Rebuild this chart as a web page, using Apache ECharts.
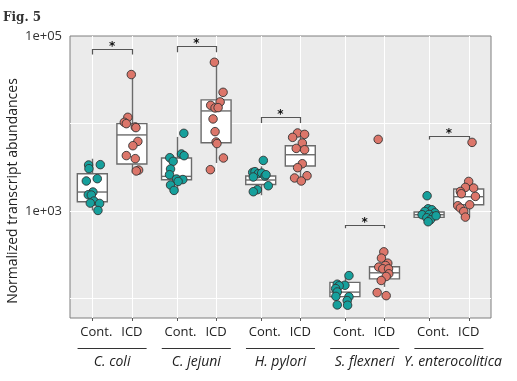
<!DOCTYPE html>
<html>
<head>
<meta charset="utf-8">
<script src="https://cdn.jsdelivr.net/npm/echarts@6/dist/echarts.min.js"></script>
<style>
  html, body { margin: 0; padding: 0; background: #fff; }
  #chart { width: 517px; height: 381px; }
</style>
</head>
<body>
<div id="chart"></div>
<script>
const groups = ['C. coli', 'C. jejuni', 'H. pylori', 'S. flexneri', 'Y. enterocolitica'];
const conditions = ['Cont.', 'ICD'];

// point values (points are jittered, so approximate)
const contValues = [
  [3360, 3050, 3390, 2345, 2205, 1650, 1535, 1523, 1301, 1233, 1222, 1016],
  [7730, 4490, 4290, 4070, 3700, 3025, 2603, 2323, 2290, 2180, 1983, 1722],
  [3790, 2766, 2820, 2673, 2722, 2513, 2600, 2450, 1946, 1754, 1663],
  [183, 146, 142, 140, 130, 119, 106, 105, 94.8, 84.7, 84],
  [1496, 1062, 1035, 989, 955, 908, 914, 867, 838, 795, 883, 755],
];
const icdValues = [
  [36260, 11780, 10330, 9970, 9150, 8980, 6250, 5580, 4300, 3970, 2940, 2870],
  [50100, 22740, 17650, 16150, 15070, 15200, 11290, 8080, 6150, 5900, 4040, 2970],
  [7800, 6950, 7520, 5990, 5200, 5020, 3475, 3130, 2534, 2387, 2205],
  [6590, 342, 290, 254, 239, 229, 219, 219, 192, 179, 161, 117, 108],
  [6090, 2180, 1863, 1675, 1832, 1577, 1470, 1151, 1180, 1081, 989, 853],
];

// horizontal jitter of each point, in group widths
const contJitter = [
  [-0.044, -0.04, 0.095, 0.059, -0.071, 0.007, -0.048, -0.012, 0.019, -0.024, 0.087, 0.067],
  [0.087, 0.059, 0.09, -0.08, -0.04, -0.071, -0.083, 0, 0.075, 0.019, -0.071, -0.029],
  [0.031, -0.095, -0.068, -0.029, 0.012, 0.051, 0.063, -0.088, 0.09, -0.04, -0.088],
  [0.048, -0.091, 0, -0.068, -0.11, -0.091, -0.107, 0.048, 0.027, -0.091, 0.032],
  [-0.024, -0.012, 0.032, -0.051, 0.068, -0.083, 0, 0.048, -0.027, 0.015, 0.083, -0.012],
];
const icdJitter = [
  [-0.007, -0.048, -0.09, -0.066, 0.04, 0.048, 0.071, 0.012, -0.066, 0.04, 0.08, 0.052],
  [-0.02, 0.083, 0.048, -0.064, -0.012, 0.024, -0.036, -0.012, 0, 0.01, 0.087, -0.068],
  [-0.032, -0.091, 0.051, 0.024, -0.048, 0.051, 0.024, -0.032, 0.08, -0.068, 0.012],
  [-0.075, -0.008, -0.036, 0.039, 0.012, -0.068, -0.02, 0.048, 0.051, 0.02, -0.039, -0.087, 0.02],
  [0.04, 0, -0.039, -0.099, 0.059, -0.087, 0.08, -0.13, 0.012, -0.099, -0.059, -0.039],
];

// box stats: [lower whisker, Q1, median, Q3, upper whisker]
const contBoxes = [
  [1016, 1277, 1650, 2672, 3960],
  [1722, 2280, 2490, 4040, 7030],
  [1517, 2010, 2263, 2510, 3240],
  [89, 105.4, 118.6, 153, 177],
  [755, 846, 908, 975, 1120],
];
const icdBoxes = [
  [2740, 3450, 7410, 9970, 36260],
  [3540, 6040, 13930, 18620, 50100],
  [2110, 3270, 4400, 5580, 8300],
  [136, 168, 197, 231, 342],
  [860, 1180, 1459, 1787, 2250],
];

// significance brackets (all "*"): bar level and tip end
const bracketLevels = [71400, 76400, 12000, 697, 7280];
const bracketTips = [61400, 65300, 10160, 635, 6550];

const Y_MIN = 60;
const Y_MAX = 1e5;
const DODGE = 0.235;
const BOX_WIDTH = 0.356;
const TEAL = '#16a09c';
const SALMON = '#dc766a';
const FONT = '"Open Sans", "Noto Sans", sans-serif';

const pos = (g, c) => g + 0.5 + (c === 0 ? -DODGE : DODGE);

const pointData = (values, jitter, c) =>
  values.flatMap((vals, g) => vals.map((v, i) => [pos(g, c) + jitter[g][i], v]));

const boxData = (boxes, c) => boxes.map((b, g) => [pos(g, c), ...b]);

const tickData = [];
groups.forEach((_, g) => conditions.forEach((_, c) => tickData.push([pos(g, c), 1000, c])));

const crisp = (v) => Math.round(v) + 0.5;

const chart = echarts.init(document.getElementById('chart'));

chart.setOption({
  animation: false,
  grid: {
    left: 70, right: 26, top: 36, bottom: 63,
    show: true,
    backgroundColor: '#ebebeb',
    borderColor: '#7f7f7f',
    borderWidth: 1,
  },
  xAxis: {
    type: 'value',
    min: 0,
    max: groups.length,
    axisLine: { show: false },
    axisTick: { show: false },
    axisLabel: { show: false },
    splitLine: { show: false },
  },
  yAxis: {
    type: 'log',
    logBase: 10,
    min: Y_MIN,
    max: Y_MAX,
    axisLine: { show: false },
    axisTick: { show: false },
    axisLabel: {
      color: '#333',
      fontFamily: FONT,
      fontSize: 13,
      margin: 8,
      formatter: (v) => {
        const e = Math.log10(v);
        if (Math.abs(e - 3) < 1e-6) return '1e+03';
        if (Math.abs(e - 5) < 1e-6) return '1e+05';
        return '';
      },
    },
    splitLine: {
      show: true,
      showMinLine: false,
      showMaxLine: false,
      lineStyle: { color: '#ffffff', width: 1 },
    },
  },
  graphic: [
    {
      type: 'text',
      x: 3,
      y: 18,
      style: {
        text: 'Fig. 5',
        fill: '#333',
        fontFamily: '"DejaVu Serif", serif',
        fontWeight: 'bold',
        fontSize: 12,
        align: 'left', verticalAlign: 'middle',
        textAlign: 'left', textVerticalAlign: 'middle',
      },
    },
    {
      type: 'text',
      x: 13,
      y: 191,
      rotation: Math.PI / 2,
      style: {
        text: 'Normalized transcript abundances',
        fill: '#222',
        fontFamily: FONT,
        fontSize: 14,
        align: 'center', verticalAlign: 'middle',
        textAlign: 'center', textVerticalAlign: 'middle',
      },
    },
  ],
  series: [
    {
      // vertical white grid lines at each Cont./ICD position
      type: 'custom',
      name: 'vgrid',
      z: 1,
      silent: true,
      data: tickData,
      renderItem: (params, api) => {
        const cs = params.coordSys;
        const x = crisp(api.coord([api.value(0), api.value(1)])[0]);
        return {
          type: 'line',
          shape: { x1: x, y1: cs.y, x2: x, y2: cs.y + cs.height },
          style: { stroke: '#ffffff', lineWidth: 1 },
        };
      },
    },
    {
      // condition labels and ticks under the panel
      type: 'custom',
      name: 'xlabels',
      z: 1,
      silent: true,
      clip: false,
      data: tickData,
      renderItem: (params, api) => {
        const cs = params.coordSys;
        const x = api.coord([api.value(0), api.value(1)])[0];
        const c = api.value(2);
        const base = cs.y + cs.height;
        return {
          type: 'group',
          children: [
            {
              type: 'line',
              shape: { x1: crisp(x), y1: base, x2: crisp(x), y2: base + 3 },
              style: { stroke: '#555', lineWidth: 1 },
            },
            {
              type: 'text',
              x: x + (c === 0 ? 4 : 0),
              y: base + 14,
              style: {
                text: conditions[c],
                fill: '#222',
                fontFamily: FONT,
                fontSize: 13,
                align: 'center', verticalAlign: 'middle',
                textAlign: 'center', textVerticalAlign: 'middle',
              },
            },
          ],
        };
      },
    },
    {
      // species labels with underline
      type: 'custom',
      name: 'groups',
      z: 1,
      silent: true,
      clip: false,
      data: groups.map((_, g) => [g + 0.5, 1000, g]),
      renderItem: (params, api) => {
        const cs = params.coordSys;
        const cx = api.coord([api.value(0), api.value(1)])[0];
        const half = api.coord([api.value(0) + 0.41, api.value(1)])[0] - cx;
        const base = cs.y + cs.height;
        return {
          type: 'group',
          children: [
            {
              type: 'line',
              shape: { x1: cx - half, y1: crisp(base + 30), x2: cx + half, y2: crisp(base + 30) },
              style: { stroke: '#333', lineWidth: 1 },
            },
            {
              type: 'text',
              x: cx + (api.value(2) === 4 ? 4 : 0),
              y: base + 44,
              style: {
                text: groups[api.value(2)],
                fill: '#222',
                fontFamily: FONT,
                fontStyle: 'italic',
                fontSize: 14,
                align: 'center', verticalAlign: 'middle',
                textAlign: 'center', textVerticalAlign: 'middle',
              },
            },
          ],
        };
      },
    },
    ...[contBoxes, icdBoxes].map((boxes, c) => ({
      type: 'custom',
      name: conditions[c] + ' box',
      z: 2,
      silent: true,
      encode: { x: 0, y: [1, 2, 3, 4, 5] },
      data: boxData(boxes, c),
      renderItem: (params, api) => {
        const x = api.value(0);
        const pt = (v) => api.coord([x, v]);
        const lo = pt(api.value(1));
        const q1 = pt(api.value(2));
        const med = pt(api.value(3));
        const q3 = pt(api.value(4));
        const hi = pt(api.value(5));
        const left = api.coord([x - BOX_WIDTH / 2, api.value(3)])[0];
        const right = api.coord([x + BOX_WIDTH / 2, api.value(3)])[0];
        const cx = crisp(lo[0]);
        const stroke = { stroke: '#6b6b6b', lineWidth: 1.4 };
        return {
          type: 'group',
          children: [
            { type: 'line', shape: { x1: cx, y1: q3[1], x2: cx, y2: hi[1] }, style: stroke },
            { type: 'line', shape: { x1: cx, y1: q1[1], x2: cx, y2: lo[1] }, style: stroke },
            {
              type: 'rect',
              shape: { x: left, y: q3[1], width: right - left, height: q1[1] - q3[1] },
              style: { fill: '#ffffff', ...stroke },
            },
            { type: 'line', shape: { x1: left, y1: med[1], x2: right, y2: med[1] }, style: stroke },
          ],
        };
      },
    })),
    ...[[contValues, contJitter], [icdValues, icdJitter]].map(([vals, jit], c) => ({
      type: 'scatter',
      name: conditions[c],
      z: 3,
      symbol: 'circle',
      symbolSize: 8.5,
      itemStyle: {
        color: c === 0 ? TEAL : SALMON,
        borderColor: '#333',
        borderWidth: 0.9,
        opacity: 1,
      },
      data: pointData(vals, jit, c),
    })),
    {
      // significance brackets
      type: 'custom',
      name: 'brackets',
      z: 4,
      silent: true,
      clip: false,
      encode: { x: 0, y: [1, 2] },
      data: groups.map((_, g) => [g + 0.5, bracketLevels[g], bracketTips[g], g]),
      renderItem: (params, api) => {
        const g = api.value(3);
        const level = api.value(1);
        const tip = api.value(2);
        const a = api.coord([pos(g, 0), tip]);
        const b = api.coord([pos(g, 0), level]);
        const c = api.coord([pos(g, 1), level]);
        const d = api.coord([pos(g, 1), tip]);
        const y = crisp(b[1]);
        return {
          type: 'group',
          children: [
            {
              type: 'polyline',
              shape: { points: [[crisp(a[0]), a[1]], [crisp(b[0]), y], [crisp(c[0]), y], [crisp(d[0]), d[1]]] },
              style: { stroke: '#555', lineWidth: 1.2, fill: null },
            },
            {
              type: 'text',
              x: (b[0] + c[0]) / 2,
              y: y + 3,
              style: {
                text: '*',
                fill: '#111',
                fontFamily: '"DejaVu Sans", sans-serif',
                fontWeight: 'bold',
                fontSize: 12,
                align: 'center', verticalAlign: 'bottom',
                textAlign: 'center', textVerticalAlign: 'bottom',
              },
            },
          ],
        };
      },
    },
  ],
});
</script>
</body>
</html>
